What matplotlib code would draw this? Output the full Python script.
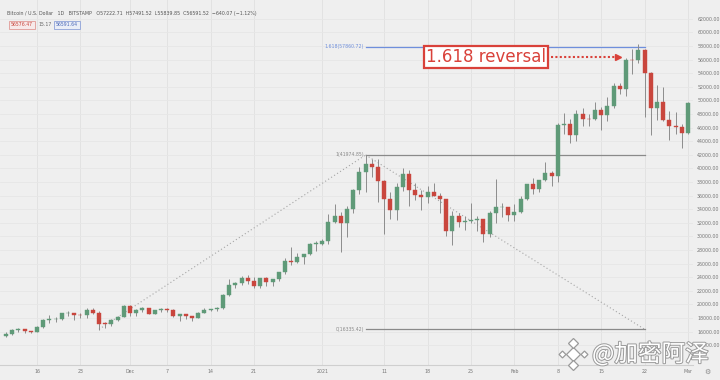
import matplotlib
matplotlib.use('Agg')
import matplotlib.pyplot as plt
import matplotlib.patheffects as pe
from matplotlib.lines import Line2D
import numpy as np
import pandas as pd

# ---------------- data ----------------
start_date = '2020-11-11'
end_date = '2021-03-01'

opens = [15290, 15700, 16290, 16330, 16070, 15960, 16720, 17660, 17790, 17820,
         18670, 18710, 18420, 18370, 19160, 18730, 17150, 17140, 17720, 18180,
         19700, 18790, 19210, 19440, 18650, 19150, 19360, 19170, 18320, 18550,
         18250, 18030, 18800, 19170, 19270, 19440, 21350, 22800, 23130, 23860,
         23480, 22740, 23820, 23240, 23730, 24710, 26440, 26250, 27040, 27370,
         28880, 28950, 29370, 32190, 33000, 31990, 33970, 36820, 39400, 40600,
         40150, 38190, 35540, 33930, 37300, 39150, 36770, 36020, 35800, 36600,
         35900, 35470, 30850, 32950, 32080, 32270, 32370, 32570, 30400, 33400,
         34270, 34300, 33100, 33520, 35500, 37660, 36970, 38280, 39260, 38880,
         46400, 46480, 44840, 47970, 47290, 47190, 48590, 47900, 49150, 52100,
         51600, 55900, 55890, 57400, 54090, 48890, 49700, 47060, 46300, 46140,
         45240]
highs = [15960, 16340, 16480, 16330, 16140, 16870, 17850, 18480, 18130, 18780,
         18960, 18750, 18760, 19400, 19480, 19040, 17450, 17880, 18340, 19850,
         19920, 19330, 19570, 19540, 19170, 19420, 19400, 19290, 18640, 18570,
         18280, 18950, 19420, 19330, 19550, 21550, 23800, 23280, 24170, 24300,
         24100, 23840, 24100, 23790, 24770, 26870, 28400, 27500, 27400, 28990,
         29300, 29600, 33300, 34800, 33600, 34500, 36900, 40200, 41950, 41380,
         41350, 38230, 36600, 37800, 40100, 39700, 37900, 36800, 37400, 37850,
         36400, 35560, 33800, 33500, 32950, 34850, 32950, 32560, 33800, 38500,
         34900, 34330, 34700, 35900, 37700, 38600, 38300, 40900, 39680, 46700,
         48200, 47300, 48600, 48950, 48000, 49700, 49000, 50500, 52600, 52500,
         56300, 57500, 58350, 57500, 54200, 52300, 52000, 48400, 48300, 46600,
         49800]
lows = [15280, 15440, 15970, 15800, 15860, 15880, 16560, 17220, 17380, 17770,
        18340, 17670, 18030, 18020, 18600, 16300, 16500, 16890, 17550, 18180,
        18320, 18340, 18920, 18580, 18520, 18880, 18900, 18200, 17610, 17920,
        17570, 18010, 18720, 19000, 19050, 19300, 21240, 22360, 22780, 23070,
        22380, 22350, 22720, 22700, 23430, 24510, 25800, 26100, 25880, 27330,
        27850, 28700, 28950, 32000, 27700, 29900, 33430, 36300, 36500, 38700,
        35100, 30400, 32500, 32400, 36700, 34400, 35400, 33900, 34900, 35900,
        33400, 30100, 28800, 31400, 30900, 31950, 30850, 29200, 29900, 31900,
        32850, 32300, 32300, 33420, 35400, 36200, 36600, 38150, 37400, 37990,
        45000, 43800, 44100, 46300, 46200, 47050, 45600, 47000, 48950, 50950,
        50700, 53900, 55500, 47600, 44900, 47100, 46900, 44200, 45000, 43000,
        45000]
closes = [15700, 16290, 16330, 16070, 15960, 16720, 17660, 17790, 17820, 18670,
          18710, 18420, 18370, 19160, 18730, 17150, 17140, 17720, 18180, 19700,
          18790, 19210, 19440, 18650, 19150, 19360, 19170, 18320, 18550, 18250,
          18030, 18800, 19170, 19270, 19440, 21350, 22800, 23130, 23860, 23480,
          22740, 23820, 23240, 23730, 24710, 26440, 26250, 27040, 27370, 28880,
          28950, 29370, 32190, 33000, 31990, 33970, 36820, 39400, 40600, 40150,
          38190, 35540, 33930, 37300, 39150, 36770, 36020, 35800, 36600, 35900,
          35470, 30850, 32950, 32080, 32270, 32370, 32570, 30400, 33400, 34270,
          34300, 33100, 33520, 35500, 37660, 36970, 38280, 39260, 38880, 46400,
          46480, 44840, 47970, 47290, 47190, 48590, 47900, 49150, 52100, 51600,
          55900, 55890, 57400, 54090, 48890, 49700, 47060, 46300, 46140, 45240,
          49600]

tick_dates = ['2020-11-16', '2020-11-23', '2020-12-01', '2020-12-07', '2020-12-14',
              '2020-12-21', '2021-01-01', '2021-01-11', '2021-01-18', '2021-01-25',
              '2021-02-01', '2021-02-08', '2021-02-15', '2021-02-22', '2021-03-01']
tick_labels = ['16', '23', 'Dec', '7', '14', '21', '2021', '11', '18', '25',
               'Feb', '8', '15', '22', 'Mar']
price_ticks = list(range(14000, 62001, 2000))

fib_levels = ['0', '1', '1.618']
fib_values = [16335.42, 41974.85, 57860.72]
fib_point_a = ('2020-11-26', 16335.42)
fib_point_b = ('2021-01-08', 41974.85)
fib_point_c = ('2021-02-22', 16335.42)

header = ('Bitcoin / U.S. Dollar   1D   BITSTAMP   O57222.71  H57491.52  '
          'L55839.85  C56591.52  \u2212640.07 (\u22121.12%)')
bid_price, spread, ask_price = '56576.47', '15.17', '56591.64'

# ---------------- drawing ----------------
dates = pd.date_range(start_date, end_date, freq='D')
d0 = dates[0]
def xpos(d):
    return (pd.Timestamp(d) - d0).days

x = np.arange(len(dates))
o = np.array(opens, float); h = np.array(highs, float)
l = np.array(lows, float); c = np.array(closes, float)

BG = '#efefef'
GREEN = '#5f9a78'
RED = '#c9463d'

fig = plt.figure(figsize=(7.2, 3.8), dpi=100, facecolor=BG)
ax = fig.add_axes([0, 15 / 380, 693 / 720, 365 / 380])
ax.set_facecolor(BG)
ax.set_xlim(-0.97, 110.8)
ax.set_ylim(11090, 64760)

# grid
tick_x = [xpos(d) for d in tick_dates]
for tx in tick_x:
    ax.axvline(tx, color='#e2e2e2', lw=0.7, zorder=0)
for py in price_ticks:
    ax.axhline(py, color='#e6e6e6', lw=0.6, zorder=0)

up = c >= o
cols = np.where(up, GREEN, RED)
ax.vlines(x, l, h, color='#8c8c8c', lw=0.7, zorder=2)
bottoms = np.minimum(o, c)
heights = np.maximum(np.abs(c - o), 90)
ax.bar(x, heights, bottom=bottoms, width=0.64, color=cols, edgecolor=cols,
       lw=0.3, zorder=3)

# fib extension
xa, xb, xc = xpos(fib_point_a[0]), xpos(fib_point_b[0]), xpos(fib_point_c[0])
ax.plot([xa, xb], [fib_point_a[1], fib_point_b[1]], color='#a5a5a5',
        lw=0.8, ls=(0, (1, 2.2)), zorder=1)
ax.plot([xb, xc], [fib_point_b[1], fib_point_c[1]], color='#a5a5a5',
        lw=0.8, ls=(0, (1, 2.2)), zorder=1)
fib_cols = ['#8a8a8a', '#8a8a8a', '#6f8fdc']
for lev, val, fc in zip(fib_levels, fib_values, fib_cols):
    ax.plot([xb, xc], [val, val], color=fc, lw=0.9, zorder=1)
    ax.text(xb - 0.3, val, f'{lev}({val:.2f})', ha='right', va='center',
            fontsize=3.3, color=fc)

# axes styling
for s in ['top', 'left', 'right']:
    ax.spines[s].set_visible(False)
ax.spines['bottom'].set_color('#cfcfcf')
ax.spines['bottom'].set_linewidth(0.8)
ax.yaxis.tick_right()
ax.set_yticks(price_ticks)
ax.set_yticklabels([f'{p:.2f}' for p in price_ticks])
ax.tick_params(axis='y', length=0, pad=3, labelsize=3.4, labelcolor='#777777')
ax.set_xticks(tick_x)
ax.set_xticklabels(tick_labels)
ax.tick_params(axis='x', length=0, pad=3, labelsize=3.4, labelcolor='#777777')

# header
fig.text(7 / 720, 1 - 14 / 380, header, fontsize=3.4, color='#555555',
         ha='left', va='center')
fig.text(11 / 720, 1 - 25 / 380, bid_price, fontsize=3.3, color='#c9463d',
         ha='left', va='center',
         bbox=dict(boxstyle='square,pad=0.35', fc='#f7eaea', ec='#e09a96', lw=0.6))
fig.text(38 / 720, 1 - 25 / 380, spread, fontsize=3.3, color='#666666',
         ha='left', va='center')
fig.text(56 / 720, 1 - 25 / 380, ask_price, fontsize=3.3, color='#4a68b8',
         ha='left', va='center',
         bbox=dict(boxstyle='square,pad=0.35', fc='#eaeef7', ec='#8ea2d8', lw=0.6))

# annotation
fig.text(485.5 / 720, 1 - 57 / 380, '1.618 reversal', ha='center', va='center',
         fontsize=12, color='#d9413a',
         bbox=dict(boxstyle='square,pad=0.12', fc='white', ec='#d9413a', lw=1.6))
fig.add_artist(Line2D([551 / 720, 616 / 720], [1 - 57 / 380, 1 - 57 / 380],
                      transform=fig.transFigure, color='#d9413a', lw=1.5,
                      ls=(0, (1, 1.1))))
fig.add_artist(Line2D([618 / 720], [1 - 57 / 380], transform=fig.transFigure,
                      marker='>', ms=4, color='#d9413a', mec='#d9413a'))

# watermark
stroke = [pe.withStroke(linewidth=1.4, foreground='#9a9a9a')]
fig.text(592 / 720, 1 - 354 / 380, '@加密阿泽', fontsize=17, color='white',
         family=['Noto Sans CJK SC', 'DejaVu Sans'], ha='left', va='center',
         path_effects=stroke)
lx, ly = 573, 354
for dx, dy, ms in [(0, 0, 7), (-11, 0, 3.5), (11, 0, 3.5), (0, -11, 5), (0, 11, 5)]:
    fig.add_artist(Line2D([(lx + dx) / 720], [1 - (ly + dy) / 380],
                          transform=fig.transFigure, marker='D', ms=ms,
                          mfc='white', mec='#9a9a9a', mew=0.9))
fig.text(707 / 720, 1 - 372 / 380, '\u2699', fontsize=5, color='#888888',
         ha='center', va='center')

fig.savefig('out.png', dpi=100, facecolor=BG)
